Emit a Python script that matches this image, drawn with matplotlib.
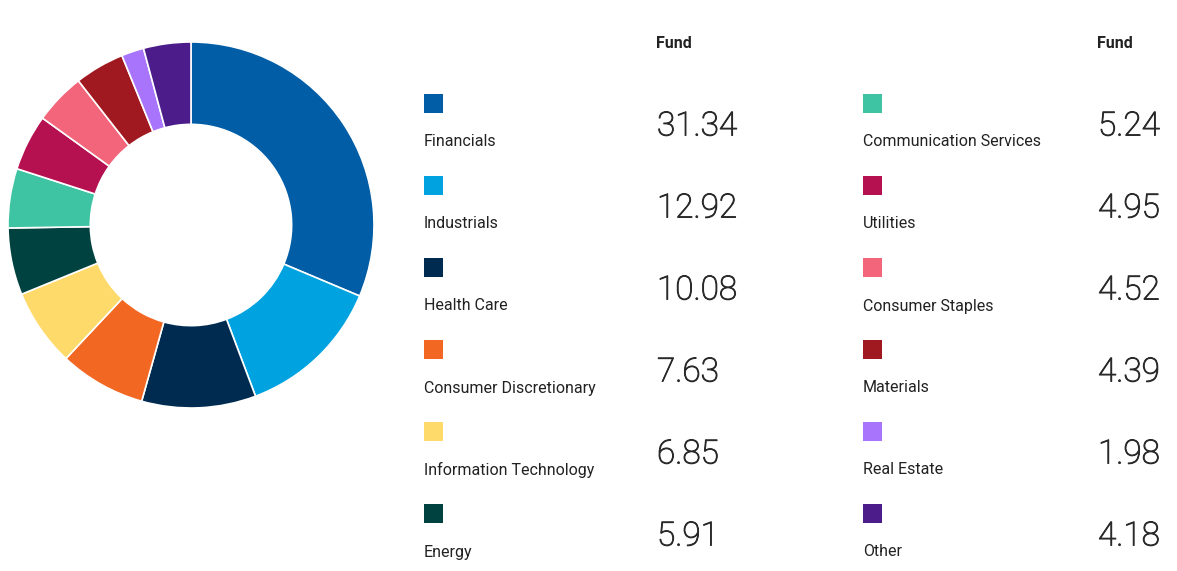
import matplotlib
matplotlib.use("Agg")
import matplotlib.pyplot as plt
import matplotlib.patheffects as pe
from matplotlib.patches import Rectangle

categories = ["Financials", "Industrials", "Health Care", "Consumer Discretionary",
              "Information Technology", "Energy", "Communication Services", "Utilities",
              "Consumer Staples", "Materials", "Real Estate", "Other"]
values = [31.34, 12.92, 10.08, 7.63, 6.85, 5.91, 5.24, 4.95, 4.52, 4.39, 1.98, 4.18]
value_labels = ["31.34", "12.92", "10.08", "7.63", "6.85", "5.91",
                "5.24", "4.95", "4.52", "4.39", "1.98", "4.18"]
colors = ["#005DA6", "#00A3E0", "#002B50", "#F26722", "#FDDA6A", "#00423F",
          "#3EC4A3", "#B5104F", "#F2657A", "#A11920", "#A874FC", "#4B1C8A"]
header = "Fund"

W, H = 1177, 571
fig = plt.figure(figsize=(W / 100, H / 100), dpi=100)
fig.patch.set_facecolor("white")

# Donut
cx, cy, r = 191, 225, 183
pax = fig.add_axes([(cx - r) / W, 1 - (cy + r) / H, 2 * r / W, 2 * r / H])
pax.pie(values, colors=colors, startangle=90, counterclock=False, radius=1,
        wedgeprops=dict(width=0.45, edgecolor="white", linewidth=1.2))
pax.set_xlim(-1, 1)
pax.set_ylim(-1, 1)
pax.set_aspect("equal")
pax.axis("off")

# Legend table
lax = fig.add_axes([0, 0, 1, 1])
lax.set_xlim(0, W)
lax.set_ylim(H, 0)
lax.axis("off")

font = "Roboto"
text_color = "#222222"
val_color = "#2a2a2a"
col_sq_x = [424, 863]
col_val_x = [657, 1098]
row0 = 94
dy = 82
for c in range(2):
    lax.text(col_val_x[c] - 1, 43, header, fontsize=11.5, fontweight="bold",
             family=font, color=text_color, va="center", ha="left")
    for rr in range(6):
        i = c * 6 + rr
        y = row0 + rr * dy
        lax.add_patch(Rectangle((col_sq_x[c], y), 19, 19, facecolor=colors[i],
                                edgecolor="none"))
        lax.text(col_sq_x[c], y + 48, categories[i], fontsize=11.5, family=font,
                 color=text_color, va="center", ha="left")
        lax.text(col_val_x[c], y + 32.5, value_labels[i], fontsize=24, family=font,
                 fontweight="light", color=val_color, va="center", ha="left",
                 path_effects=[pe.withStroke(linewidth=0.7, foreground=val_color)])

fig.savefig("out.png", dpi=100, facecolor="white")
